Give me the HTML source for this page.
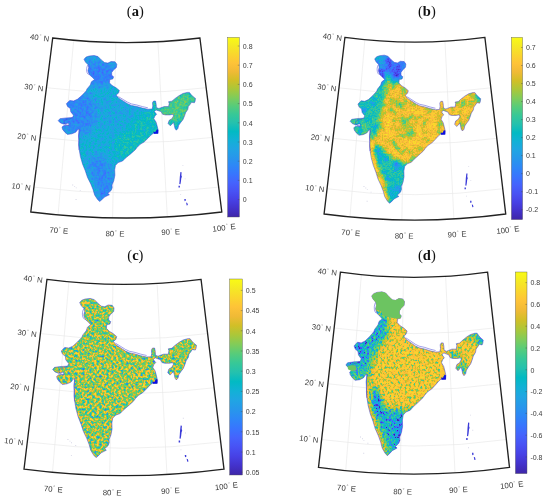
<!DOCTYPE html>
<html lang="en"><head><meta charset="utf-8"><title>Figure</title>
<style>html,body{margin:0;padding:0;background:#fff}body{width:550px;height:502px;overflow:hidden}svg{display:block}.t{font-family:"Liberation Sans",Arial,sans-serif;font-size:7px;fill:#3c3c3c}.x{font-family:"Liberation Sans",Arial,sans-serif;font-size:7.8px;fill:#3c3c3c}.dg{font-size:5px;fill:#8a8a8a}.h{font-family:"Liberation Serif","Times New Roman",serif;font-size:14.5px;fill:#111}.h tspan{font-weight:bold}</style></head><body>
<svg width="550" height="502" viewBox="0 0 550 502">
<defs>
<linearGradient id="par" x1="0" y1="0" x2="0" y2="1"><stop offset="0" stop-color="#f9fb15"/><stop offset="0.0000" stop-color="#f9fb15"/><stop offset="0.0476" stop-color="#f5e924"/><stop offset="0.0952" stop-color="#fad62d"/><stop offset="0.1429" stop-color="#fec338"/><stop offset="0.1905" stop-color="#f0ba36"/><stop offset="0.2381" stop-color="#d1bf27"/><stop offset="0.2857" stop-color="#abc739"/><stop offset="0.3333" stop-color="#81cc59"/><stop offset="0.3810" stop-color="#57cc7a"/><stop offset="0.4286" stop-color="#37c897"/><stop offset="0.4762" stop-color="#24c1ae"/><stop offset="0.5238" stop-color="#02bac3"/><stop offset="0.5714" stop-color="#12b1d6"/><stop offset="0.6190" stop-color="#20a5e3"/><stop offset="0.6667" stop-color="#2797eb"/><stop offset="0.7143" stop-color="#2e87f7"/><stop offset="0.7619" stop-color="#3875fe"/><stop offset="0.8095" stop-color="#4563fd"/><stop offset="0.8571" stop-color="#4852f4"/><stop offset="0.9048" stop-color="#4741e5"/><stop offset="0.9524" stop-color="#4332cb"/><stop offset="1.0000" stop-color="#3e26a8"/></linearGradient>
<path id="india" d="M-42.3 21.3 L-40.3 19.1 L-37.1 18 L-32.1 17.5 L-28.3 18.6 L-25 21.9 L-21.7 24.6 L-18.4 25.1 L-15.2 23.5 L-11.3 23.8 L-9.5 26.2 L-9.9 29.5 L-13 32.3 L-14.6 34.5 L-14.6 37.2 L-12.7 38.8 L-13.5 41 L-16.5 41.6 L-16.8 44.9 L-14.1 47.6 L-10.2 49.8 L-6.9 52.5 L-8 55.3 L-10.2 56.9 L-7.5 60.2 L-3.1 62.9 L1.3 65.7 L5.1 67.4 L10.6 68.5 L16.1 70.1 L21.6 71.2 L25.9 71 L26.5 68 L26.2 64.7 L27.3 63 L29.2 63 L29.8 65.8 L30.1 69.6 L32.5 70.5 L34.7 69.7 L37.9 68.6 L42.3 68.6 L42.9 65.4 L42.3 63.7 L45.6 63.2 L48.9 60.4 L52.7 57.7 L56.6 55.5 L60.9 54.4 L63.1 54.4 L64.8 56.6 L67 58.8 L69.2 60.4 L68.8 63.2 L68.1 64.8 L65.3 64.3 L63.7 66.5 L62 68.6 L61.5 71.4 L59.3 74.7 L58.2 78 L56.6 81.8 L54.4 84.5 L52.4 87.3 L51.6 90.5 L50 92.2 L48.7 90.5 L48 87.3 L47.2 84.5 L45.6 86.2 L44 87.8 L41.8 85.6 L42.9 82.3 L45.6 80.7 L47.2 78 L46.7 76.3 L43.4 76.9 L39 76.9 L36.3 76.3 L34.7 73.6 L31.9 72.7 L29.7 71.9 L28.1 73.6 L30.3 76.3 L28.6 78 L27.5 80.7 L29.7 84 L30.8 87.8 L31.9 92.2 L31.6 95.5 L27 95.3 L24.8 97 L21.6 100.3 L17.7 104.1 L13.9 106.3 L10.6 109.6 L9 111.8 L3.7 116.4 L-1 120.2 L-3.7 123 L-8.1 124.6 L-10.8 127.3 L-11.6 131.7 L-11.4 137.2 L-12.5 142.7 L-14.3 147 L-14.1 149.8 L-15.2 152.5 L-18.5 155.3 L-16.9 156.7 L-18.5 157.5 L-21.8 159.1 L-24.5 161.8 L-26.7 163.5 L-28.9 161.3 L-31.7 156.9 L-33.3 151.4 L-35.5 146 L-38.8 139.4 L-41 132.8 L-43.7 126.2 L-45.9 118.6 L-47 112 L-47.6 106.8 L-47.3 102.4 L-47.6 98 L-47.3 94.7 L-47 90.9 L-48.4 91.4 L-50.6 94.2 L-54.4 95.8 L-58.8 96.4 L-61.5 94.2 L-63.7 91.4 L-64.3 89 L-62.3 87.5 L-57.3 87.5 L-57.8 85 L-62.3 86.2 L-65.9 84.9 L-68.1 82.7 L-66.4 80.7 L-59.9 79.9 L-53.8 79.6 L-52.8 77.2 L-55.5 73.9 L-56 70.6 L-58.8 68.4 L-59.9 65.7 L-56.6 62.4 L-52.8 63 L-48.9 61.3 L-44.5 57.5 L-40.2 53.1 L-39.3 50.9 L-36 47 L-34.9 43.8 L-31.8 41.6 L-33.8 39.4 L-37.1 36.6 L-38.4 32.8 L-37.6 29.5 L-38.2 26.8 L-40.9 24Z"/>
<clipPath id="cin"><use href="#india"/></clipPath>
<filter id="fa" x="0" y="0" width="1" height="1" color-interpolation-filters="sRGB">
<feGaussianBlur in="SourceGraphic" stdDeviation="3.5" result="b"/>
<feTurbulence type="fractalNoise" baseFrequency="0.35" numOctaves="3" seed="3" result="n"/>
<feColorMatrix in="n" type="matrix" values="1 0 0 0 0 1 0 0 0 0 1 0 0 0 0 0 0 0 0 1" result="ng"/>
<feComposite in="b" in2="ng" operator="arithmetic" k1="0" k2="1" k3="0.25" k4="-0.125" result="v"/>
<feTurbulence type="fractalNoise" baseFrequency="0.67" numOctaves="1" seed="13" result="m"/>
<feColorMatrix in="m" type="matrix" values="1 0 0 0 0 1 0 0 0 0 1 0 0 0 0 0 0 0 0 1" result="mg"/>
<feComposite in="v" in2="mg" operator="arithmetic" k1="0" k2="1" k3="0.2" k4="-0.1" result="v"/>
<feComponentTransfer in="v"><feFuncR type="table" tableValues="0.242 0.258 0.270 0.278 0.281 0.280 0.271 0.248 0.202 0.180 0.171 0.149 0.130 0.102 0.047 0.005 0.070 0.155 0.204 0.265 0.359 0.466 0.579 0.687 0.785 0.872 0.946 0.996 0.994 0.978 0.961 0.963 0.977"/><feFuncG type="table" tableValues="0.150 0.181 0.214 0.254 0.298 0.341 0.385 0.431 0.479 0.523 0.564 0.603 0.639 0.673 0.702 0.726 0.746 0.762 0.780 0.794 0.802 0.801 0.792 0.777 0.757 0.739 0.729 0.747 0.792 0.841 0.891 0.938 0.984"/><feFuncB type="table" tableValues="0.660 0.750 0.834 0.896 0.939 0.970 0.989 0.998 0.991 0.971 0.941 0.913 0.892 0.867 0.826 0.778 0.726 0.671 0.611 0.541 0.463 0.376 0.291 0.214 0.162 0.163 0.216 0.234 0.201 0.175 0.153 0.126 0.081"/></feComponentTransfer>
</filter>
<filter id="fb" x="0" y="0" width="1" height="1" color-interpolation-filters="sRGB">
<feGaussianBlur in="SourceGraphic" stdDeviation="2.5" result="b"/>
<feTurbulence type="fractalNoise" baseFrequency="0.13" numOctaves="2" seed="5" result="n"/>
<feColorMatrix in="n" type="matrix" values="1 0 0 0 0 1 0 0 0 0 1 0 0 0 0 0 0 0 0 1" result="ng"/>
<feComponentTransfer in="ng" result="ng"><feFuncR type="table" tableValues="0 0.2 0.5 0.6 0.66"/><feFuncG type="table" tableValues="0 0.2 0.5 0.6 0.66"/><feFuncB type="table" tableValues="0 0.2 0.5 0.6 0.66"/></feComponentTransfer>
<feComposite in="b" in2="ng" operator="arithmetic" k1="0" k2="1" k3="0.55" k4="-0.275" result="v"/>
<feTurbulence type="fractalNoise" baseFrequency="0.67" numOctaves="1" seed="11" result="m"/>
<feColorMatrix in="m" type="matrix" values="1 0 0 0 0 1 0 0 0 0 1 0 0 0 0 0 0 0 0 1" result="mg"/>
<feComposite in="v" in2="mg" operator="arithmetic" k1="0" k2="1" k3="0.35" k4="-0.175" result="v"/>
<feComponentTransfer in="v"><feFuncR type="table" tableValues="0.242 0.258 0.270 0.278 0.281 0.280 0.271 0.248 0.202 0.180 0.171 0.149 0.130 0.102 0.047 0.005 0.070 0.155 0.204 0.265 0.359 0.466 0.579 0.687 0.785 0.872 0.946 0.996 0.994 0.978 0.961 0.963 0.977"/><feFuncG type="table" tableValues="0.150 0.181 0.214 0.254 0.298 0.341 0.385 0.431 0.479 0.523 0.564 0.603 0.639 0.673 0.702 0.726 0.746 0.762 0.780 0.794 0.802 0.801 0.792 0.777 0.757 0.739 0.729 0.747 0.792 0.841 0.891 0.938 0.984"/><feFuncB type="table" tableValues="0.660 0.750 0.834 0.896 0.939 0.970 0.989 0.998 0.991 0.971 0.941 0.913 0.892 0.867 0.826 0.778 0.726 0.671 0.611 0.541 0.463 0.376 0.291 0.214 0.162 0.163 0.216 0.234 0.201 0.175 0.153 0.126 0.081"/></feComponentTransfer>
</filter>
<filter id="fc" x="0" y="0" width="1" height="1" color-interpolation-filters="sRGB">
<feGaussianBlur in="SourceGraphic" stdDeviation="5" result="b"/>
<feTurbulence type="fractalNoise" baseFrequency="0.43" numOctaves="2" seed="7" result="n"/>
<feColorMatrix in="n" type="matrix" values="1 0 0 0 0 1 0 0 0 0 1 0 0 0 0 0 0 0 0 1" result="ng"/>
<feComponentTransfer in="ng" result="ng"><feFuncR type="table" tableValues="0 0 0 0 .15 .35 .42 .46 .5 .6 .66 .7 .75 .8 .8 .8 .8"/><feFuncG type="table" tableValues="0 0 0 0 .15 .35 .42 .46 .5 .6 .66 .7 .75 .8 .8 .8 .8"/><feFuncB type="table" tableValues="0 0 0 0 .15 .35 .42 .46 .5 .6 .66 .7 .75 .8 .8 .8 .8"/></feComponentTransfer>
<feComposite in="b" in2="ng" operator="arithmetic" k1="0" k2="1" k3="1" k4="-0.5" result="v"/>
<feComponentTransfer in="v"><feFuncR type="table" tableValues="0.242 0.258 0.270 0.278 0.281 0.280 0.271 0.248 0.202 0.180 0.171 0.149 0.130 0.102 0.047 0.005 0.070 0.155 0.204 0.265 0.359 0.466 0.579 0.687 0.785 0.872 0.946 0.996 0.994 0.978 0.961 0.963 0.977"/><feFuncG type="table" tableValues="0.150 0.181 0.214 0.254 0.298 0.341 0.385 0.431 0.479 0.523 0.564 0.603 0.639 0.673 0.702 0.726 0.746 0.762 0.780 0.794 0.802 0.801 0.792 0.777 0.757 0.739 0.729 0.747 0.792 0.841 0.891 0.938 0.984"/><feFuncB type="table" tableValues="0.660 0.750 0.834 0.896 0.939 0.970 0.989 0.998 0.991 0.971 0.941 0.913 0.892 0.867 0.826 0.778 0.726 0.671 0.611 0.541 0.463 0.376 0.291 0.214 0.162 0.163 0.216 0.234 0.201 0.175 0.153 0.126 0.081"/></feComponentTransfer>
</filter>
<filter id="fd" x="0" y="0" width="1" height="1" color-interpolation-filters="sRGB">
<feGaussianBlur in="SourceGraphic" stdDeviation="2.5" result="b"/>
<feTurbulence type="fractalNoise" baseFrequency="0.45" numOctaves="3" seed="9" result="n"/>
<feColorMatrix in="n" type="matrix" values="1 0 0 0 0 1 0 0 0 0 1 0 0 0 0 0 0 0 0 1" result="ng"/>
<feComponentTransfer in="ng" result="ng"><feFuncR type="table" tableValues="0 0.15 0.5 0.6 0.65"/><feFuncG type="table" tableValues="0 0.15 0.5 0.6 0.65"/><feFuncB type="table" tableValues="0 0.15 0.5 0.6 0.65"/></feComponentTransfer>
<feComposite in="b" in2="ng" operator="arithmetic" k1="-1.5" k2="1.75" k3="2" k4="-1" result="v"/>
<feComponentTransfer in="v"><feFuncR type="table" tableValues="0.242 0.258 0.270 0.278 0.281 0.280 0.271 0.248 0.202 0.180 0.171 0.149 0.130 0.102 0.047 0.005 0.070 0.155 0.204 0.265 0.359 0.466 0.579 0.687 0.785 0.872 0.946 0.996 0.994 0.978 0.961 0.963 0.977"/><feFuncG type="table" tableValues="0.150 0.181 0.214 0.254 0.298 0.341 0.385 0.431 0.479 0.523 0.564 0.603 0.639 0.673 0.702 0.726 0.746 0.762 0.780 0.794 0.802 0.801 0.792 0.777 0.757 0.739 0.729 0.747 0.792 0.841 0.891 0.938 0.984"/><feFuncB type="table" tableValues="0.660 0.750 0.834 0.896 0.939 0.970 0.989 0.998 0.991 0.971 0.941 0.913 0.892 0.867 0.826 0.778 0.726 0.671 0.611 0.541 0.463 0.376 0.291 0.214 0.162 0.163 0.216 0.234 0.201 0.175 0.153 0.126 0.081"/></feComponentTransfer>
</filter>
</defs>
<rect width="550" height="502" fill="#fff"/>
<g transform="translate(126.3 38) scale(1 1)">
<path d="M-52.64 2.26 L-68.30 176.93 M-10.54 4.52 L-13.68 179.86 M31.61 3.76 L41.01 178.88 M-92.36 149.14 A739.93 739.93 0 0 0 92.36 149.14 M-86.11 99.43 A689.82 689.82 0 0 0 86.11 99.43 M-79.85 49.71 A639.72 639.72 0 0 0 79.85 49.71" fill="none" stroke="#e6e6e6" stroke-width="0.6" vector-effect="non-scaling-stroke"/>
<g clip-path="url(#cin)"><g filter="url(#fa)">
<rect x="-100" y="-15" width="200" height="210" fill="#696969"/>
<ellipse cx="-27" cy="34" rx="20" ry="14" fill="#454545"/>
<ellipse cx="-30" cy="21" rx="14" ry="5" fill="#5e5e5e"/>
<ellipse cx="-12" cy="27" rx="5" ry="5" fill="#5c5c5c"/>
<ellipse cx="-50" cy="75" rx="22" ry="22" fill="#4a4a4a"/>
<ellipse cx="-10" cy="75" rx="22" ry="18" fill="#636363"/>
<ellipse cx="-8" cy="55" rx="5" ry="6" fill="#757575"/>
<ellipse cx="8" cy="105" rx="20" ry="16" fill="#7d7d7d" transform="rotate(-30 8 105)"/>
<ellipse cx="28" cy="67" rx="4" ry="7" fill="#8f8f8f"/>
<ellipse cx="22" cy="88" rx="18" ry="13" fill="#7a7a7a"/>
<ellipse cx="52" cy="70" rx="22" ry="14" fill="#999999" transform="rotate(-30 52 70)"/>
<ellipse cx="-26" cy="140" rx="13" ry="24" fill="#4c4c4c" transform="rotate(-15 -26 140)"/>
<ellipse cx="-23" cy="158" rx="8" ry="8" fill="#454545"/>
<path d="M-47.3 103 L-47 112 L-45.9 118.6 L-43.7 126.2 L-41 132.8 L-38.8 139.4 L-35.5 146 L-33.3 151.4 L-31.7 156.9 L-28.9 161.3" fill="none" stroke="#757575" stroke-width="5" stroke-linejoin="round"/>
</g></g>
<use href="#india" fill="none" stroke="#4040d0" stroke-width="0.5" vector-effect="non-scaling-stroke"/>
<path d="M-38.2 26.8C-40.3 29 -40.3 35 -37.7 36.6M-8 58.6L-3.1 61.5L1.3 64.2L5.1 65.9L10.6 67L16.1 68.6L21.6 69.8M-53.8 79.6L-57 81L-60.5 81.5L-62.5 84L-61 86.5L-57.3 87.5M-47 91L-47.8 97L-47.6 103L-47.3 112" fill="none" stroke="#4545d2" stroke-width="0.5" vector-effect="non-scaling-stroke"/>
<path d="M54.1 134l1.2 0.2l-0.2 3l0.5 1.5l-0.6 1.5l-0.4 3.5l-0.5 2.5l-1.1 -0.2l0.3 -3.5l0.2 -3.5zM52.2 147.8h1.4v1.8h-1.4z M58 161l1.4 0l0.2 1.6l-1.3 0.6z M59.8 164.6l1.2 0.3l0.6 2.2l-1.2 0.3z" fill="#3a3ad8"/>
<path d="M-54 146.5h.9v.9h-.9zM-52 148h.8v.8h-.8zM-50.5 149.5h.8v.8h-.8zM-46.5 152h.8v.8h-.8zM-50.7 161h.9v.9h-.9zM56.2 127h.8v.8h-.8zM58.4 140.5h.8v.8h-.8zM54 156h.8v.8h-.8z" fill="#cfcfe2"/>
<path d="M30.5 91.4L31.9 91.8L31.9 95.6L27.6 95.8L27.1 93.6L29 94.2Z" fill="#0c0ce4"/>
<path d="M-73.6 0 A589.612 589.612 0 0 0 73.6 0 L95.5 174 A764.984 764.984 0 0 1 -95.5 174 Z" fill="none" stroke="#222" stroke-width="1.35" stroke-linejoin="miter" vector-effect="non-scaling-stroke"/>
</g>
<text class="x" transform="translate(39.6 37.6) rotate(7)" text-anchor="middle" y="2.8">40<tspan class="dg" dx="0.5" dy="-2.9">°</tspan><tspan dx="0.3" dy="2.9"> N</tspan></text>
<text class="x" transform="translate(33.8 87.4) rotate(7)" text-anchor="middle" y="2.8">30<tspan class="dg" dx="0.5" dy="-2.9">°</tspan><tspan dx="0.3" dy="2.9"> N</tspan></text>
<text class="x" transform="translate(26.8 136.9) rotate(7)" text-anchor="middle" y="2.8">20<tspan class="dg" dx="0.5" dy="-2.9">°</tspan><tspan dx="0.3" dy="2.9"> N</tspan></text>
<text class="x" transform="translate(21.2 186.7) rotate(7)" text-anchor="middle" y="2.8">10<tspan class="dg" dx="0.5" dy="-2.9">°</tspan><tspan dx="0.3" dy="2.9"> N</tspan></text>
<text class="x" transform="translate(58.8 230.4) rotate(5)" text-anchor="middle" y="2.8">70<tspan class="dg" dx="0.5" dy="-2.9">°</tspan><tspan dx="0.3" dy="2.9"> E</tspan></text>
<text class="x" transform="translate(115.0 233.5) rotate(1)" text-anchor="middle" y="2.8">80<tspan class="dg" dx="0.5" dy="-2.9">°</tspan><tspan dx="0.3" dy="2.9"> E</tspan></text>
<text class="x" transform="translate(170.7 231.8) rotate(-3)" text-anchor="middle" y="2.8">90<tspan class="dg" dx="0.5" dy="-2.9">°</tspan><tspan dx="0.3" dy="2.9"> E</tspan></text>
<text class="x" transform="translate(224.0 227.6) rotate(-7)" text-anchor="middle" y="2.8">100<tspan class="dg" dx="0.5" dy="-2.9">°</tspan><tspan dx="0.3" dy="2.9"> E</tspan></text>
<g transform="translate(414.9 37.4) scale(0.951 1.015)">
<path d="M-52.64 2.26 L-68.30 176.93 M-10.54 4.52 L-13.68 179.86 M31.61 3.76 L41.01 178.88 M-92.36 149.14 A739.93 739.93 0 0 0 92.36 149.14 M-86.11 99.43 A689.82 689.82 0 0 0 86.11 99.43 M-79.85 49.71 A639.72 639.72 0 0 0 79.85 49.71" fill="none" stroke="#e6e6e6" stroke-width="0.6" vector-effect="non-scaling-stroke"/>
<g clip-path="url(#cin)"><g filter="url(#fb)">
<rect x="-100" y="-15" width="200" height="210" fill="#d4d4d4"/>
<path d="M-40 46 L-28 48 L-33 57 L-36 76 L-39 92 L-45 100 L-72 92 L-72 60 L-50 50Z" fill="#878787"/>
<ellipse cx="-56" cy="66" rx="8" ry="10" fill="#7a7a7a"/>
<ellipse cx="-59" cy="88" rx="10" ry="8" fill="#949494"/>
<ellipse cx="-27" cy="30" rx="22" ry="16" fill="#454545"/>
<ellipse cx="-17" cy="31" rx="6" ry="7" fill="#303030"/>
<ellipse cx="-37" cy="24" rx="6" ry="4" fill="#616161"/>
<ellipse cx="-28.5" cy="43" rx="2" ry="6" fill="#d9d9d9"/>
<ellipse cx="-18" cy="66" rx="10" ry="2.5" fill="#9e9e9e" transform="rotate(35 -18 66)"/>
<path d="M-42 104 L-36 106 L-26 119 L-15 121 L-7 125 L-7 140 L-9 168 L-25 178 L-42 140Z" fill="#808080"/>
<ellipse cx="-23" cy="158" rx="7" ry="7" fill="#6b6b6b"/>
<ellipse cx="-38.5" cy="118" rx="2.5" ry="10" fill="#575757" transform="rotate(-8 -38.5 118)"/>
<path d="M-47.3 103 L-47 112 L-45.9 118.6 L-43.7 126.2 L-41 132.8 L-38.8 139.4 L-35.5 146 L-33.3 151.4 L-31.7 156.9 L-28.9 161.3" fill="none" stroke="#ebebeb" stroke-width="9" stroke-linejoin="round"/>
<ellipse cx="68" cy="60" rx="4" ry="4" fill="#666666"/>
<ellipse cx="-8" cy="88" rx="8" ry="4" fill="#a6a6a6"/>
</g></g>
<use href="#india" fill="none" stroke="#4040d0" stroke-width="0.5" vector-effect="non-scaling-stroke"/>
<path d="M-38.2 26.8C-40.3 29 -40.3 35 -37.7 36.6M-8 58.6L-3.1 61.5L1.3 64.2L5.1 65.9L10.6 67L16.1 68.6L21.6 69.8M-53.8 79.6L-57 81L-60.5 81.5L-62.5 84L-61 86.5L-57.3 87.5M-47 91L-47.8 97L-47.6 103L-47.3 112" fill="none" stroke="#4545d2" stroke-width="0.5" vector-effect="non-scaling-stroke"/>
<path d="M54.1 134l1.2 0.2l-0.2 3l0.5 1.5l-0.6 1.5l-0.4 3.5l-0.5 2.5l-1.1 -0.2l0.3 -3.5l0.2 -3.5zM52.2 147.8h1.4v1.8h-1.4z M58 161l1.4 0l0.2 1.6l-1.3 0.6z M59.8 164.6l1.2 0.3l0.6 2.2l-1.2 0.3z" fill="#3a3ad8"/>
<path d="M-54 146.5h.9v.9h-.9zM-52 148h.8v.8h-.8zM-50.5 149.5h.8v.8h-.8zM-46.5 152h.8v.8h-.8zM-50.7 161h.9v.9h-.9zM56.2 127h.8v.8h-.8zM58.4 140.5h.8v.8h-.8zM54 156h.8v.8h-.8z" fill="#cfcfe2"/>
<path d="M30.5 91.4L31.9 91.8L31.9 95.6L27.6 95.8L27.1 93.6L29 94.2Z" fill="#0c0ce4"/>
<path d="M-73.6 0 A589.612 589.612 0 0 0 73.6 0 L95.5 174 A764.984 764.984 0 0 1 -95.5 174 Z" fill="none" stroke="#222" stroke-width="1.35" stroke-linejoin="miter" vector-effect="non-scaling-stroke"/>
</g>
<text class="x" transform="translate(332.4 37.0) rotate(7)" text-anchor="middle" y="2.8">40<tspan class="dg" dx="0.5" dy="-2.9">°</tspan><tspan dx="0.3" dy="2.9"> N</tspan></text>
<text class="x" transform="translate(326.9 87.5) rotate(7)" text-anchor="middle" y="2.8">30<tspan class="dg" dx="0.5" dy="-2.9">°</tspan><tspan dx="0.3" dy="2.9"> N</tspan></text>
<text class="x" transform="translate(320.3 137.8) rotate(7)" text-anchor="middle" y="2.8">20<tspan class="dg" dx="0.5" dy="-2.9">°</tspan><tspan dx="0.3" dy="2.9"> N</tspan></text>
<text class="x" transform="translate(314.9 188.3) rotate(7)" text-anchor="middle" y="2.8">10<tspan class="dg" dx="0.5" dy="-2.9">°</tspan><tspan dx="0.3" dy="2.9"> N</tspan></text>
<text class="x" transform="translate(350.7 232.7) rotate(5)" text-anchor="middle" y="2.8">70<tspan class="dg" dx="0.5" dy="-2.9">°</tspan><tspan dx="0.3" dy="2.9"> E</tspan></text>
<text class="x" transform="translate(404.2 235.8) rotate(1)" text-anchor="middle" y="2.8">80<tspan class="dg" dx="0.5" dy="-2.9">°</tspan><tspan dx="0.3" dy="2.9"> E</tspan></text>
<text class="x" transform="translate(457.1 234.1) rotate(-3)" text-anchor="middle" y="2.8">90<tspan class="dg" dx="0.5" dy="-2.9">°</tspan><tspan dx="0.3" dy="2.9"> E</tspan></text>
<text class="x" transform="translate(507.8 229.8) rotate(-7)" text-anchor="middle" y="2.8">100<tspan class="dg" dx="0.5" dy="-2.9">°</tspan><tspan dx="0.3" dy="2.9"> E</tspan></text>
<g transform="translate(124 279.4) scale(1.047 1.09)">
<path d="M-52.64 2.26 L-68.30 176.93 M-10.54 4.52 L-13.68 179.86 M31.61 3.76 L41.01 178.88 M-92.36 149.14 A739.93 739.93 0 0 0 92.36 149.14 M-86.11 99.43 A689.82 689.82 0 0 0 86.11 99.43 M-79.85 49.71 A639.72 639.72 0 0 0 79.85 49.71" fill="none" stroke="#e6e6e6" stroke-width="0.6" vector-effect="non-scaling-stroke"/>
<g clip-path="url(#cin)"><g filter="url(#fc)">
<rect x="-100" y="-15" width="200" height="210" fill="#a8a8a8"/>
<ellipse cx="-10" cy="85" rx="35" ry="30" fill="#adadad"/>
</g></g>
<use href="#india" fill="none" stroke="#4040d0" stroke-width="0.5" vector-effect="non-scaling-stroke"/>
<path d="M-38.2 26.8C-40.3 29 -40.3 35 -37.7 36.6M-8 58.6L-3.1 61.5L1.3 64.2L5.1 65.9L10.6 67L16.1 68.6L21.6 69.8M-53.8 79.6L-57 81L-60.5 81.5L-62.5 84L-61 86.5L-57.3 87.5M-47 91L-47.8 97L-47.6 103L-47.3 112" fill="none" stroke="#4545d2" stroke-width="0.5" vector-effect="non-scaling-stroke"/>
<path d="M54.1 134l1.2 0.2l-0.2 3l0.5 1.5l-0.6 1.5l-0.4 3.5l-0.5 2.5l-1.1 -0.2l0.3 -3.5l0.2 -3.5zM52.2 147.8h1.4v1.8h-1.4z M58 161l1.4 0l0.2 1.6l-1.3 0.6z M59.8 164.6l1.2 0.3l0.6 2.2l-1.2 0.3z" fill="#3a3ad8"/>
<path d="M-54 146.5h.9v.9h-.9zM-52 148h.8v.8h-.8zM-50.5 149.5h.8v.8h-.8zM-46.5 152h.8v.8h-.8zM-50.7 161h.9v.9h-.9zM56.2 127h.8v.8h-.8zM58.4 140.5h.8v.8h-.8zM54 156h.8v.8h-.8z" fill="#cfcfe2"/>
<path d="M30.5 91.4L31.9 91.8L31.9 95.6L27.6 95.8L27.1 93.6L29 94.2Z" fill="#0c0ce4"/>
<path d="M-73.6 0 A589.612 589.612 0 0 0 73.6 0 L95.5 174 A764.984 764.984 0 0 1 -95.5 174 Z" fill="none" stroke="#222" stroke-width="1.35" stroke-linejoin="miter" vector-effect="non-scaling-stroke"/>
</g>
<text class="x" transform="translate(33.2 279.0) rotate(7)" text-anchor="middle" y="2.8">40<tspan class="dg" dx="0.5" dy="-2.9">°</tspan><tspan dx="0.3" dy="2.9"> N</tspan></text>
<text class="x" transform="translate(27.2 333.2) rotate(7)" text-anchor="middle" y="2.8">30<tspan class="dg" dx="0.5" dy="-2.9">°</tspan><tspan dx="0.3" dy="2.9"> N</tspan></text>
<text class="x" transform="translate(19.8 387.2) rotate(7)" text-anchor="middle" y="2.8">20<tspan class="dg" dx="0.5" dy="-2.9">°</tspan><tspan dx="0.3" dy="2.9"> N</tspan></text>
<text class="x" transform="translate(14.0 441.5) rotate(7)" text-anchor="middle" y="2.8">10<tspan class="dg" dx="0.5" dy="-2.9">°</tspan><tspan dx="0.3" dy="2.9"> N</tspan></text>
<text class="x" transform="translate(53.3 489.1) rotate(5)" text-anchor="middle" y="2.8">70<tspan class="dg" dx="0.5" dy="-2.9">°</tspan><tspan dx="0.3" dy="2.9"> E</tspan></text>
<text class="x" transform="translate(112.2 492.5) rotate(1)" text-anchor="middle" y="2.8">80<tspan class="dg" dx="0.5" dy="-2.9">°</tspan><tspan dx="0.3" dy="2.9"> E</tspan></text>
<text class="x" transform="translate(170.5 490.6) rotate(-3)" text-anchor="middle" y="2.8">90<tspan class="dg" dx="0.5" dy="-2.9">°</tspan><tspan dx="0.3" dy="2.9"> E</tspan></text>
<text class="x" transform="translate(226.3 486.1) rotate(-7)" text-anchor="middle" y="2.8">100<tspan class="dg" dx="0.5" dy="-2.9">°</tspan><tspan dx="0.3" dy="2.9"> E</tspan></text>
<g transform="translate(414 272.2) scale(1 1.122)">
<path d="M-52.64 2.26 L-68.30 176.93 M-10.54 4.52 L-13.68 179.86 M31.61 3.76 L41.01 178.88 M-92.36 149.14 A739.93 739.93 0 0 0 92.36 149.14 M-86.11 99.43 A689.82 689.82 0 0 0 86.11 99.43 M-79.85 49.71 A639.72 639.72 0 0 0 79.85 49.71" fill="none" stroke="#e6e6e6" stroke-width="0.6" vector-effect="non-scaling-stroke"/>
<g clip-path="url(#cin)"><g filter="url(#fd)">
<rect x="-100" y="-15" width="200" height="210" fill="#d9d9d9"/>
<path d="M-42 33 L-24 40 L-24 57 L-31 66 L-37 75 L-41 85 L-43 97 L-49 106 L-75 98 L-75 55 L-50 45Z" fill="#b8b8b8"/>
<path d="M-42 33 L-27 40 L-28 56 L-35 64 L-41 72 L-45 83 L-47 96 L-53 104 L-75 95 L-75 60 L-50 50Z" fill="#808080"/>
<ellipse cx="-57" cy="68" rx="7" ry="10" fill="#6b6b6b"/>
<ellipse cx="-58" cy="93" rx="9" ry="6" fill="#999999"/>
<path d="M-38 103 L-27 120.5 L-17 119.5 L-7 121.5 L-1 118 L-2 140 L-8 168 L-28 175 L-48 130Z" fill="#b8b8b8"/>
<path d="M-38 106 L-28 124 L-18 123 L-8 125 L-4 122 L-5 140 L-10 160 L-28 166 L-45 130Z" fill="#7a7a7a"/>
<ellipse cx="-38" cy="115" rx="2" ry="14" fill="#262626" transform="rotate(-5 -38 115)"/>
<ellipse cx="-13" cy="142" rx="3" ry="12" fill="#383838"/>
<ellipse cx="-24" cy="160" rx="7" ry="6" fill="#858585"/>
<path d="M-47.3 103 L-47 112 L-45.9 118.6 L-43.7 126.2 L-41 132.8 L-38.8 139.4 L-35.5 146 L-33.3 151.4 L-31.7 156.9 L-28.9 161.3" fill="none" stroke="#d1d1d1" stroke-width="9" stroke-linejoin="round"/>
<ellipse cx="68" cy="60" rx="5" ry="5" fill="#666666"/>
<ellipse cx="48" cy="86" rx="5" ry="6" fill="#949494"/>
<ellipse cx="42" cy="74" rx="7" ry="2.5" fill="#8f8f8f"/>
<ellipse cx="58" cy="57" rx="8" ry="3" fill="#9e9e9e" transform="rotate(-30 58 57)"/>
</g></g>
<use href="#india" fill="none" stroke="#4040d0" stroke-width="0.5" vector-effect="non-scaling-stroke"/>
<path d="M-38.2 26.8C-40.3 29 -40.3 35 -37.7 36.6M-8 58.6L-3.1 61.5L1.3 64.2L5.1 65.9L10.6 67L16.1 68.6L21.6 69.8M-53.8 79.6L-57 81L-60.5 81.5L-62.5 84L-61 86.5L-57.3 87.5M-47 91L-47.8 97L-47.6 103L-47.3 112" fill="none" stroke="#4545d2" stroke-width="0.5" vector-effect="non-scaling-stroke"/>
<g clip-path="url(#cin)"><path d="M-50 10 L0 10 L0 30 L-12 34 L-13 41.5 L-20 41 L-27 40 L-31 38.5 L-33 35 L-38.5 33 L-50 33Z" fill="#6cc461"/></g><path d="M-66.5 83.4L-58.5 83L-57.8 87L-62 88.2L-66 86.6Z" fill="#6cc461"/>
<path d="M54.1 134l1.2 0.2l-0.2 3l0.5 1.5l-0.6 1.5l-0.4 3.5l-0.5 2.5l-1.1 -0.2l0.3 -3.5l0.2 -3.5zM52.2 147.8h1.4v1.8h-1.4z M58 161l1.4 0l0.2 1.6l-1.3 0.6z M59.8 164.6l1.2 0.3l0.6 2.2l-1.2 0.3z" fill="#3a3ad8"/>
<path d="M-54 146.5h.9v.9h-.9zM-52 148h.8v.8h-.8zM-50.5 149.5h.8v.8h-.8zM-46.5 152h.8v.8h-.8zM-50.7 161h.9v.9h-.9zM56.2 127h.8v.8h-.8zM58.4 140.5h.8v.8h-.8zM54 156h.8v.8h-.8z" fill="#cfcfe2"/>
<path d="M30.5 91.4L31.9 91.8L31.9 95.6L27.6 95.8L27.1 93.6L29 94.2Z" fill="#0c0ce4"/>
<path d="M-73.6 0 A589.612 589.612 0 0 0 73.6 0 L95.5 174 A764.984 764.984 0 0 1 -95.5 174 Z" fill="none" stroke="#222" stroke-width="1.35" stroke-linejoin="miter" vector-effect="non-scaling-stroke"/>
</g>
<text class="x" transform="translate(327.3 271.8) rotate(7)" text-anchor="middle" y="2.8">40<tspan class="dg" dx="0.5" dy="-2.9">°</tspan><tspan dx="0.3" dy="2.9"> N</tspan></text>
<text class="x" transform="translate(321.5 327.6) rotate(7)" text-anchor="middle" y="2.8">30<tspan class="dg" dx="0.5" dy="-2.9">°</tspan><tspan dx="0.3" dy="2.9"> N</tspan></text>
<text class="x" transform="translate(314.5 383.2) rotate(7)" text-anchor="middle" y="2.8">20<tspan class="dg" dx="0.5" dy="-2.9">°</tspan><tspan dx="0.3" dy="2.9"> N</tspan></text>
<text class="x" transform="translate(308.9 439.0) rotate(7)" text-anchor="middle" y="2.8">10<tspan class="dg" dx="0.5" dy="-2.9">°</tspan><tspan dx="0.3" dy="2.9"> N</tspan></text>
<text class="x" transform="translate(346.5 488.1) rotate(5)" text-anchor="middle" y="2.8">70<tspan class="dg" dx="0.5" dy="-2.9">°</tspan><tspan dx="0.3" dy="2.9"> E</tspan></text>
<text class="x" transform="translate(402.7 491.6) rotate(1)" text-anchor="middle" y="2.8">80<tspan class="dg" dx="0.5" dy="-2.9">°</tspan><tspan dx="0.3" dy="2.9"> E</tspan></text>
<text class="x" transform="translate(458.4 489.6) rotate(-3)" text-anchor="middle" y="2.8">90<tspan class="dg" dx="0.5" dy="-2.9">°</tspan><tspan dx="0.3" dy="2.9"> E</tspan></text>
<text class="x" transform="translate(511.7 484.9) rotate(-7)" text-anchor="middle" y="2.8">100<tspan class="dg" dx="0.5" dy="-2.9">°</tspan><tspan dx="0.3" dy="2.9"> E</tspan></text>
<rect x="227.6" y="37.4" width="11.8" height="179.6" fill="url(#par)" stroke="#555" stroke-width="0.4"/>
<path d="M239.4 46 h-1.6" stroke="#444" stroke-width="0.4"/>
<text class="t" x="242.8" y="48.7">0.8</text>
<path d="M239.4 65.2 h-1.6" stroke="#444" stroke-width="0.4"/>
<text class="t" x="242.8" y="67.9">0.7</text>
<path d="M239.4 84.4 h-1.6" stroke="#444" stroke-width="0.4"/>
<text class="t" x="242.8" y="87.1">0.6</text>
<path d="M239.4 103.6 h-1.6" stroke="#444" stroke-width="0.4"/>
<text class="t" x="242.8" y="106.3">0.5</text>
<path d="M239.4 122.8 h-1.6" stroke="#444" stroke-width="0.4"/>
<text class="t" x="242.8" y="125.5">0.4</text>
<path d="M239.4 142 h-1.6" stroke="#444" stroke-width="0.4"/>
<text class="t" x="242.8" y="144.7">0.3</text>
<path d="M239.4 161.2 h-1.6" stroke="#444" stroke-width="0.4"/>
<text class="t" x="242.8" y="163.9">0.2</text>
<path d="M239.4 180.4 h-1.6" stroke="#444" stroke-width="0.4"/>
<text class="t" x="242.8" y="183.1">0.1</text>
<path d="M239.4 199.6 h-1.6" stroke="#444" stroke-width="0.4"/>
<text class="t" x="242.8" y="202.3">0</text>
<rect x="511.4" y="37.4" width="11.2" height="182.2" fill="url(#par)" stroke="#555" stroke-width="0.4"/>
<path d="M522.6 47.5 h-1.6" stroke="#444" stroke-width="0.4"/>
<text class="t" x="526" y="50.2">0.7</text>
<path d="M522.6 65.52 h-1.6" stroke="#444" stroke-width="0.4"/>
<text class="t" x="526" y="68.22">0.6</text>
<path d="M522.6 83.54 h-1.6" stroke="#444" stroke-width="0.4"/>
<text class="t" x="526" y="86.24">0.5</text>
<path d="M522.6 101.56 h-1.6" stroke="#444" stroke-width="0.4"/>
<text class="t" x="526" y="104.26">0.4</text>
<path d="M522.6 119.58 h-1.6" stroke="#444" stroke-width="0.4"/>
<text class="t" x="526" y="122.28">0.3</text>
<path d="M522.6 137.6 h-1.6" stroke="#444" stroke-width="0.4"/>
<text class="t" x="526" y="140.3">0.2</text>
<path d="M522.6 155.62 h-1.6" stroke="#444" stroke-width="0.4"/>
<text class="t" x="526" y="158.32">0.1</text>
<path d="M522.6 173.64 h-1.6" stroke="#444" stroke-width="0.4"/>
<text class="t" x="526" y="176.34">0</text>
<path d="M522.6 191.66 h-1.6" stroke="#444" stroke-width="0.4"/>
<text class="t" x="526" y="194.36">-0.1</text>
<path d="M522.6 209.68 h-1.6" stroke="#444" stroke-width="0.4"/>
<text class="t" x="526" y="212.38">-0.2</text>
<rect x="229.6" y="279" width="12.8" height="196" fill="url(#par)" stroke="#555" stroke-width="0.4"/>
<path d="M242.4 290.4 h-1.6" stroke="#444" stroke-width="0.4"/>
<text class="t" x="245.8" y="293.1">0.5</text>
<path d="M242.4 310.6 h-1.6" stroke="#444" stroke-width="0.4"/>
<text class="t" x="245.8" y="313.3">0.45</text>
<path d="M242.4 330.8 h-1.6" stroke="#444" stroke-width="0.4"/>
<text class="t" x="245.8" y="333.5">0.4</text>
<path d="M242.4 351 h-1.6" stroke="#444" stroke-width="0.4"/>
<text class="t" x="245.8" y="353.7">0.35</text>
<path d="M242.4 371.2 h-1.6" stroke="#444" stroke-width="0.4"/>
<text class="t" x="245.8" y="373.9">0.3</text>
<path d="M242.4 391.4 h-1.6" stroke="#444" stroke-width="0.4"/>
<text class="t" x="245.8" y="394.1">0.25</text>
<path d="M242.4 411.6 h-1.6" stroke="#444" stroke-width="0.4"/>
<text class="t" x="245.8" y="414.3">0.2</text>
<path d="M242.4 431.8 h-1.6" stroke="#444" stroke-width="0.4"/>
<text class="t" x="245.8" y="434.5">0.15</text>
<path d="M242.4 452 h-1.6" stroke="#444" stroke-width="0.4"/>
<text class="t" x="245.8" y="454.7">0.1</text>
<path d="M242.4 472.2 h-1.6" stroke="#444" stroke-width="0.4"/>
<text class="t" x="245.8" y="474.9">0.05</text>
<rect x="515.4" y="272" width="11.6" height="201.6" fill="url(#par)" stroke="#555" stroke-width="0.4"/>
<path d="M527 282.6 h-1.6" stroke="#444" stroke-width="0.4"/>
<text class="t" x="530.4" y="285.3">0.8</text>
<path d="M527 304.4 h-1.6" stroke="#444" stroke-width="0.4"/>
<text class="t" x="530.4" y="307.1">0.6</text>
<path d="M527 326.2 h-1.6" stroke="#444" stroke-width="0.4"/>
<text class="t" x="530.4" y="328.9">0.4</text>
<path d="M527 348 h-1.6" stroke="#444" stroke-width="0.4"/>
<text class="t" x="530.4" y="350.7">0.2</text>
<path d="M527 369.8 h-1.6" stroke="#444" stroke-width="0.4"/>
<text class="t" x="530.4" y="372.5">0</text>
<path d="M527 391.6 h-1.6" stroke="#444" stroke-width="0.4"/>
<text class="t" x="530.4" y="394.3">-0.2</text>
<path d="M527 413.4 h-1.6" stroke="#444" stroke-width="0.4"/>
<text class="t" x="530.4" y="416.1">-0.4</text>
<path d="M527 435.2 h-1.6" stroke="#444" stroke-width="0.4"/>
<text class="t" x="530.4" y="437.9">-0.6</text>
<path d="M527 457 h-1.6" stroke="#444" stroke-width="0.4"/>
<text class="t" x="530.4" y="459.7">-0.8</text>
<text class="h" x="135.3" y="16.2" text-anchor="middle">(<tspan>a</tspan>)</text>
<text class="h" x="426.9" y="16.2" text-anchor="middle">(<tspan>b</tspan>)</text>
<text class="h" x="135.4" y="260" text-anchor="middle">(<tspan>c</tspan>)</text>
<text class="h" x="426.9" y="260.3" text-anchor="middle">(<tspan>d</tspan>)</text>
</svg></body></html>
